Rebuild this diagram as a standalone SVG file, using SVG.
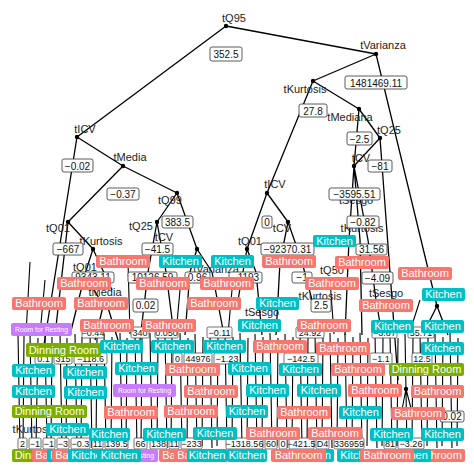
<svg xmlns="http://www.w3.org/2000/svg" width="474" height="474" viewBox="0 0 474 474">
<style>
.e{stroke:#000;stroke-width:1.3;fill:none}
.h{stroke:#000;stroke-width:1.1;fill:none}
.dot{fill:#000}
.nl{font-family:'Liberation Sans',Arial,sans-serif;font-size:11px;fill:#222;text-anchor:middle}
.sp rect{fill:#fff;stroke:#333;stroke-width:0.8}
.sp text{font-family:'Liberation Sans',Arial,sans-serif;font-size:10px;fill:#111;text-anchor:middle}
.sm rect{fill:#fff;stroke:#333;stroke-width:0.7}
.sm text{font-family:'Liberation Sans',Arial,sans-serif;font-size:9px;fill:#111;text-anchor:middle}
.leaf text{font-family:'Liberation Sans',Arial,sans-serif;font-size:11px;fill:#fff;text-anchor:middle}
.k rect{fill:#00BFC4}
.b rect{fill:#F8766D}
.d rect{fill:#7CAE00}
.r rect{fill:#C77CFF}
.r text{font-size:6.8px}
</style>
<rect width="474" height="474" fill="#fff"/>
<g id="connectors">
<path class="e" d="M226 26L376 54M226 26L77 137M376 54L313 81M376 54L437 306M313 81L359 109M313 81L267 193M359 109L380 138M359 109L354 166M380 138L354 166M380 138L398 380M267 193L247 249M267 193L288 222M77 137L123 166M77 137L40 370M123 166L68 222M123 166L177 193M177 193L157 222M177 193L197 249M68 222L93 249M68 222L55 335M93 249L85 274M93 249L112 290M85 274L70 335M85 274L100 300M105 298L95 340M105 298L118 340M157 222L148 272M157 222L166 272M148 272L140 340M166 272L174 335M197 249L190 272M197 249L212 272M190 272L185 335M212 272L224 335M247 249L238 300M247 249L256 272M256 272L262 335M288 222L280 262M288 222L302 262M302 262L312 300M280 262L276 335M354 166L349 240M354 166L360 240M354 166L368 240M349 240L345 335M360 240L362 335M368 240L376 300M376 300L382 335M437 306L429 322M437 306L448 335"/>
<path class="h" d="M18 334L20 448M24 336L23 446M30 333L32 448M38 338L36 446M45 334L47 448M52 337L51 446M60 333L62 448M67 338L66 446M75 334L77 448M82 337L81 446M90 333L92 448M97 338L96 446M104 334L106 448M112 337L111 446M120 333L122 448M127 338L126 446M135 334L137 448M142 337L141 446M150 333L152 448M158 338L157 446M165 334L167 448M172 337L171 446M180 333L182 448M188 338L187 446M195 334L197 448M203 337L202 446M210 333L212 448M218 338L217 446M225 334L227 448M233 337L232 446M240 333L242 448M248 338L247 446M255 334L257 448M263 337L262 446M270 333L272 448M278 338L277 446M285 334L287 448M293 337L292 446M300 333L302 448M308 338L307 446M315 334L317 448M323 337L322 446M330 333L332 448M338 338L337 446M345 334L347 448M353 337L352 446M360 333L362 448M368 338L367 446M375 334L377 448M383 337L382 446M390 333L392 448M398 338L397 446M405 334L407 448M413 337L412 446M420 333L422 448M428 338L427 446M435 334L437 448M443 337L442 446M450 333L452 448M458 338L457 446M30 262L26 334M45 280L40 334M128 262L130 334M180 290L176 334M232 290L228 334M330 280L334 334M406 389L400 420M406 389L414 420M413 322L420 300"/>
</g>
<g id="n-tQ95"><circle class="dot" cx="226" cy="26" r="2.2"/><text class="nl" x="234" y="22">tQ95</text></g>
<g id="n-tVarianza"><circle class="dot" cx="376" cy="54" r="2.2"/><text class="nl" x="383" y="49">tVarianza</text></g>
<g id="n-tKurtosis"><circle class="dot" cx="313" cy="81" r="2.2"/><text class="nl" x="305" y="93">tKurtosis</text></g>
<g id="n-tMediana"><circle class="dot" cx="359" cy="109" r="2.2"/><text class="nl" x="350" y="121">tMediana</text></g>
<g id="n-tQ25r"><circle class="dot" cx="380" cy="138" r="2.2"/><text class="nl" x="389" y="134">tQ25</text></g>
<g id="n-tCVr"><circle class="dot" cx="354" cy="166" r="2.2"/><text class="nl" x="361" y="162">tCV</text></g>
<g id="n-tICV"><circle class="dot" cx="77" cy="137" r="2.2"/><text class="nl" x="85" y="133">tICV</text></g>
<g id="n-tMedia"><circle class="dot" cx="123" cy="166" r="2.2"/><text class="nl" x="130" y="161">tMedia</text></g>
<g id="n-tQ99"><circle class="dot" cx="177" cy="193" r="2.2"/><text class="nl" x="170" y="204">tQ99</text></g>
<g id="n-tQ25l"><circle class="dot" cx="157" cy="222" r="2.2"/><text class="nl" x="141" y="230">tQ25</text></g>
<g id="n-tQ01l"><circle class="dot" cx="68" cy="222" r="2.2"/><text class="nl" x="58" y="232">tQ01</text></g>
<g id="n-tKurtosisl"><circle class="dot" cx="93" cy="249" r="2.2"/><text class="nl" x="101" y="245">tKurtosis</text></g>
<g id="n-tCVl"><circle class="dot" cx="197" cy="249" r="2.2"/><text class="nl" x="164" y="241">tCV</text></g>
<g id="n-tICVr"><circle class="dot" cx="267" cy="193" r="2.2"/><text class="nl" x="275" y="188">tICV</text></g>
<g id="n-tCVr2"><circle class="dot" cx="288" cy="222" r="2.2"/><text class="nl" x="282" y="232">tCV</text></g>
<g id="n-tQ01r"><circle class="dot" cx="247" cy="249" r="2.2"/><text class="nl" x="250" y="245">tQ01</text></g>
<g id="n-misc"><text class="nl" x="356" y="204">tSesgo</text><text class="nl" x="362" y="232">tKurtosis</text><text class="nl" x="85" y="271">tQ01</text><text class="nl" x="105" y="296">tMedia</text><text class="nl" x="216" y="273">tVarianza</text><text class="nl" x="332" y="274">tQ50</text><text class="nl" x="320" y="300">tKurtosis</text><text class="nl" x="262" y="316">tSesgo</text><text class="nl" x="386" y="297">tSesgo</text><text class="nl" x="34" y="433">tKurtosis</text></g>
<g id="n-right"><circle class="dot" cx="437" cy="306" r="2.2"/><circle class="dot" cx="406" cy="389" r="2.2"/></g>
<g id="splits">
<g class="sp"><rect x="210" y="47" width="32" height="14" rx="2"/><text x="226" y="58">352.5</text></g>
<g class="sp"><rect x="345" y="76" width="62" height="13" rx="2"/><text x="376" y="86.5">1481469.11</text></g>
<g class="sp"><rect x="299" y="104" width="28" height="13" rx="2"/><text x="313" y="114.5">27.8</text></g>
<g class="sp"><rect x="347" y="132" width="25" height="13" rx="2"/><text x="359.5" y="142.5">−2.5</text></g>
<g class="sp"><rect x="368" y="160" width="24" height="12" rx="2"/><text x="380" y="170">−81</text></g>
<g class="sp"><rect x="62" y="159" width="31" height="13" rx="2"/><text x="77.5" y="169.5">−0.02</text></g>
<g class="sp"><rect x="107" y="188" width="32" height="12" rx="2"/><text x="123" y="198">−0.37</text></g>
<g class="sp"><rect x="162" y="216" width="31" height="12" rx="2"/><text x="177.5" y="226">383.5</text></g>
<g class="sp"><rect x="329" y="188" width="51" height="12" rx="2"/><text x="354.5" y="198">−3595.51</text></g>
<g class="sp"><rect x="262" y="216" width="10" height="12" rx="2"/><text x="267" y="226">0</text></g>
<g class="sp"><rect x="347" y="216" width="32" height="12" rx="2"/><text x="363" y="226">−0.82</text></g>
<g class="sp"><rect x="53" y="243" width="30" height="12" rx="2"/><text x="68" y="253">−667</text></g>
<g class="sp"><rect x="142" y="243" width="31" height="12" rx="2"/><text x="157.5" y="253">−41.5</text></g>
<g class="sp"><rect x="261" y="243" width="53" height="12" rx="2"/><text x="287.5" y="253">−92370.31</text></g>
<g class="sp"><rect x="356" y="244" width="31" height="11" rx="2"/><text x="371.5" y="253">31.56</text></g>
<g class="sp"><rect x="72" y="272" width="42" height="11" rx="2"/><text x="93" y="281">9343.11</text></g>
<g class="sp"><rect x="128" y="272" width="49" height="11" rx="2"/><text x="152.5" y="281">10126.59</text></g>
<g class="sp"><rect x="185" y="272" width="25" height="11" rx="2"/><text x="197.5" y="281">0.96</text></g>
<g class="sp"><rect x="229" y="272" width="33" height="11" rx="2"/><text x="245.5" y="281">−1193</text></g>
<g class="sp"><rect x="292" y="272" width="20" height="11" rx="2"/><text x="302" y="281">−1</text></g>
<g class="sp"><rect x="362" y="272" width="31" height="12" rx="2"/><text x="377.5" y="282">−4.09</text></g>
<g class="sp"><rect x="311" y="299" width="20" height="13" rx="2"/><text x="321" y="309">2.5</text></g>
<g class="sp"><rect x="133" y="299" width="25" height="13" rx="2"/><text x="145.5" y="309">0.02</text></g>
<g class="sp"><rect x="440" y="411" width="24" height="11" rx="2"/><text x="452" y="420">0.02</text></g>
<g class="sm"><rect x="82" y="327" width="22" height="11" rx="1.5"/><text x="93" y="336">−0.44</text></g>
<g class="sm"><rect x="131" y="327" width="18" height="11" rx="1.5"/><text x="140" y="336">340</text></g>
<g class="sm"><rect x="155" y="327" width="23" height="11" rx="1.5"/><text x="166.5" y="336">0.050</text></g>
<g class="sm"><rect x="207" y="327" width="25" height="11" rx="1.5"/><text x="219.5" y="336">−0.11</text></g>
<g class="sm"><rect x="296" y="327" width="28" height="11" rx="1.5"/><text x="310" y="336">24.92</text></g>
<g class="sm"><rect x="372" y="327" width="25" height="11" rx="1.5"/><text x="384.5" y="336">−3.87</text></g>
<g class="sm"><rect x="408" y="327" width="26" height="11" rx="1.5"/><text x="421" y="336">55.71</text></g>
<g class="sm"><rect x="35" y="353" width="17" height="11" rx="1.5"/><text x="43.5" y="362">0.1</text></g>
<g class="sm"><rect x="54" y="353" width="18" height="11" rx="1.5"/><text x="63" y="362">315</text></g>
<g class="sm"><rect x="74" y="353" width="33" height="11" rx="1.5"/><text x="90.5" y="362">−118.6</text></g>
<g class="sm"><rect x="173" y="353" width="9" height="11" rx="1.5"/><text x="177.5" y="362">0</text></g>
<g class="sm"><rect x="184" y="353" width="28" height="11" rx="1.5"/><text x="198" y="362">44976</text></g>
<g class="sm"><rect x="214" y="353" width="26" height="11" rx="1.5"/><text x="227" y="362">−1.23</text></g>
<g class="sm"><rect x="284" y="353" width="34" height="11" rx="1.5"/><text x="301" y="362">−142.5</text></g>
<g class="sm"><rect x="370" y="353" width="22" height="11" rx="1.5"/><text x="381" y="362">−1.1</text></g>
<g class="sm"><rect x="412" y="353" width="20" height="11" rx="1.5"/><text x="422" y="362">12.5</text></g>
<g class="sm"><rect x="18" y="438" width="9" height="11" rx="1.5"/><text x="22.5" y="447">2</text></g>
<g class="sm"><rect x="29" y="438" width="12" height="11" rx="1.5"/><text x="35" y="447">−1</text></g>
<g class="sm"><rect x="43" y="438" width="12" height="11" rx="1.5"/><text x="49" y="447">−1</text></g>
<g class="sm"><rect x="57" y="438" width="12" height="11" rx="1.5"/><text x="63" y="447">−3</text></g>
<g class="sm"><rect x="71" y="438" width="19" height="11" rx="1.5"/><text x="80.5" y="447">−0.3</text></g>
<g class="sm"><rect x="92" y="438" width="11" height="11" rx="1.5"/><text x="97.5" y="447">11</text></g>
<g class="sm"><rect x="105" y="438" width="23" height="11" rx="1.5"/><text x="116.5" y="447">139.5</text></g>
<g class="sm"><rect x="134" y="438" width="13" height="11" rx="1.5"/><text x="140.5" y="447">66</text></g>
<g class="sm"><rect x="150" y="438" width="17" height="11" rx="1.5"/><text x="158.5" y="447">138</text></g>
<g class="sm"><rect x="169" y="438" width="10" height="11" rx="1.5"/><text x="174" y="447">11</text></g>
<g class="sm"><rect x="181" y="438" width="21" height="11" rx="1.5"/><text x="191.5" y="447">−233</text></g>
<g class="sm"><rect x="226" y="438" width="37" height="11" rx="1.5"/><text x="244.5" y="447">−1318.56</text></g>
<g class="sm"><rect x="265" y="438" width="12" height="11" rx="1.5"/><text x="271" y="447">60</text></g>
<g class="sm"><rect x="279" y="438" width="8" height="11" rx="1.5"/><text x="283" y="447">0</text></g>
<g class="sm"><rect x="289" y="438" width="25" height="11" rx="1.5"/><text x="301.5" y="447">−421.5</text></g>
<g class="sm"><rect x="316" y="438" width="13" height="11" rx="1.5"/><text x="322.5" y="447">D4</text></g>
<g class="sm"><rect x="334" y="438" width="30" height="11" rx="1.5"/><text x="349" y="447">336959</text></g>
<g class="sm"><rect x="384" y="438" width="12" height="11" rx="1.5"/><text x="390" y="447">81</text></g>
<g class="sm"><rect x="398" y="438" width="26" height="11" rx="1.5"/><text x="411" y="447">−3.26</text></g>
</g>
<g id="leaves">
<g id="L1" class="leaf k"><rect x="313" y="235" width="43" height="12" rx="2"/><text x="334.5" y="245">Kitchen</text></g>
<g id="L2" class="leaf b"><rect x="96" y="255" width="54" height="13" rx="2"/><text x="123" y="265">Bathroom</text></g>
<g id="L3" class="leaf k"><rect x="159" y="255" width="43" height="13" rx="2"/><text x="180.5" y="265">Kitchen</text></g>
<g id="L4" class="leaf k"><rect x="211" y="255" width="43" height="13" rx="2"/><text x="232.5" y="265">Kitchen</text></g>
<g id="L5" class="leaf b"><rect x="262" y="255" width="54" height="13" rx="2"/><text x="289" y="265">Bathroom</text></g>
<g id="L6" class="leaf b"><rect x="335" y="256" width="54" height="13" rx="2"/><text x="362" y="266">Bathroom</text></g>
<g id="L7" class="leaf b"><rect x="398" y="267" width="54" height="13" rx="2"/><text x="425" y="277">Bathroom</text></g>
<g id="L8" class="leaf b"><rect x="57" y="277" width="54" height="13" rx="2"/><text x="84" y="287">Bathroom</text></g>
<g id="L9" class="leaf b"><rect x="136" y="277" width="54" height="13" rx="2"/><text x="163" y="287">Bathroom</text></g>
<g id="L10" class="leaf b"><rect x="200" y="277" width="54" height="13" rx="2"/><text x="227" y="287">Bathroom</text></g>
<g id="L11" class="leaf b"><rect x="305" y="277" width="54" height="13" rx="2"/><text x="332" y="287">Bathroom</text></g>
<g id="L12" class="leaf k"><rect x="422" y="288" width="43" height="13" rx="2"/><text x="443.5" y="298">Kitchen</text></g>
<g id="L13" class="leaf b"><rect x="12" y="297" width="54" height="13" rx="2"/><text x="39" y="307">Bathroom</text></g>
<g id="L14" class="leaf b"><rect x="74" y="297" width="54" height="13" rx="2"/><text x="101" y="307">Bathroom</text></g>
<g id="L15" class="leaf b"><rect x="187" y="297" width="54" height="13" rx="2"/><text x="214" y="307">Bathroom</text></g>
<g id="L16" class="leaf k"><rect x="256" y="297" width="43" height="13" rx="2"/><text x="277.5" y="307">Kitchen</text></g>
<g id="L17" class="leaf b"><rect x="359" y="299" width="54" height="13" rx="2"/><text x="386" y="309">Bathroom</text></g>
<g id="L18" class="leaf r"><rect x="11" y="323" width="61" height="13" rx="2"/><text x="41.5" y="332">Room for Resting</text></g>
<g id="L19" class="leaf b"><rect x="80" y="319" width="54" height="13" rx="2"/><text x="107" y="329">Bathroom</text></g>
<g id="L20" class="leaf b"><rect x="142" y="319" width="54" height="13" rx="2"/><text x="169" y="329">Bathroom</text></g>
<g id="L21" class="leaf k"><rect x="238" y="319" width="43" height="13" rx="2"/><text x="259.5" y="329">Kitchen</text></g>
<g id="L22" class="leaf b"><rect x="297" y="319" width="54" height="13" rx="2"/><text x="324" y="329">Bathroom</text></g>
<g id="L23" class="leaf k"><rect x="371" y="320" width="43" height="13" rx="2"/><text x="392.5" y="330">Kitchen</text></g>
<g id="L24" class="leaf k"><rect x="421" y="320" width="43" height="13" rx="2"/><text x="442.5" y="330">Kitchen</text></g>
<g id="L25" class="leaf d"><rect x="26" y="343" width="75" height="14" rx="2"/><text x="63.5" y="353.5">Dinning Room</text></g>
<g id="L26" class="leaf k"><rect x="100" y="340" width="43" height="13" rx="2"/><text x="121.5" y="350">Kitchen</text></g>
<g id="L27" class="leaf k"><rect x="151" y="340" width="43" height="13" rx="2"/><text x="172.5" y="350">Kitchen</text></g>
<g id="L28" class="leaf k"><rect x="203" y="340" width="43" height="13" rx="2"/><text x="224.5" y="350">Kitchen</text></g>
<g id="L29" class="leaf b"><rect x="253" y="340" width="54" height="13" rx="2"/><text x="280" y="350">Bathroom</text></g>
<g id="L30" class="leaf b"><rect x="316" y="342" width="54" height="13" rx="2"/><text x="343" y="352">Bathroom</text></g>
<g id="L31" class="leaf k"><rect x="421" y="342" width="43" height="13" rx="2"/><text x="442.5" y="352">Kitchen</text></g>
<g id="L32" class="leaf k"><rect x="12" y="364" width="43" height="13" rx="2"/><text x="33.5" y="374">Kitchen</text></g>
<g id="L33" class="leaf k"><rect x="63" y="366" width="44" height="13" rx="2"/><text x="85" y="376">Kitchen</text></g>
<g id="L34" class="leaf k"><rect x="115" y="362" width="43" height="13" rx="2"/><text x="136.5" y="372">Kitchen</text></g>
<g id="L35" class="leaf b"><rect x="165" y="363" width="55" height="13" rx="2"/><text x="192.5" y="373">Bathroom</text></g>
<g id="L36" class="leaf k"><rect x="228" y="362" width="43" height="13" rx="2"/><text x="249.5" y="372">Kitchen</text></g>
<g id="L37" class="leaf k"><rect x="279" y="363" width="43" height="13" rx="2"/><text x="300.5" y="373">Kitchen</text></g>
<g id="L38" class="leaf b"><rect x="331" y="363" width="54" height="13" rx="2"/><text x="358" y="373">Bathroom</text></g>
<g id="L39" class="leaf d"><rect x="389" y="363" width="75" height="13" rx="2"/><text x="426.5" y="373">Dinning Room</text></g>
<g id="L40" class="leaf k"><rect x="12" y="385" width="43" height="13" rx="2"/><text x="33.5" y="395">Kitchen</text></g>
<g id="L41" class="leaf k"><rect x="64" y="386" width="43" height="13" rx="2"/><text x="85.5" y="396">Kitchen</text></g>
<g id="L42" class="leaf r"><rect x="113" y="384" width="63" height="13" rx="2"/><text x="144.5" y="393">Room for Resting</text></g>
<g id="L43" class="leaf b"><rect x="184" y="385" width="54" height="13" rx="2"/><text x="211" y="395">Bathroom</text></g>
<g id="L44" class="leaf k"><rect x="246" y="384" width="43" height="13" rx="2"/><text x="267.5" y="394">Kitchen</text></g>
<g id="L45" class="leaf k"><rect x="297" y="384" width="44" height="13" rx="2"/><text x="319" y="394">Kitchen</text></g>
<g id="L46" class="leaf b"><rect x="348" y="384" width="54" height="13" rx="2"/><text x="375" y="394">Bathroom</text></g>
<g id="L47" class="leaf b"><rect x="411" y="385" width="53" height="13" rx="2"/><text x="437.5" y="395">Bathroom</text></g>
<g id="L48" class="leaf d"><rect x="12" y="405" width="75" height="13" rx="2"/><text x="49.5" y="415">Dinning Room</text></g>
<g id="L49" class="leaf b"><rect x="104" y="406" width="54" height="13" rx="2"/><text x="131" y="416">Bathroom</text></g>
<g id="L50" class="leaf b"><rect x="164" y="405" width="54" height="13" rx="2"/><text x="191" y="415">Bathroom</text></g>
<g id="L51" class="leaf k"><rect x="226" y="405" width="42" height="13" rx="2"/><text x="247" y="415">Kitchen</text></g>
<g id="L52" class="leaf b"><rect x="277" y="406" width="54" height="13" rx="2"/><text x="304" y="416">Bathroom</text></g>
<g id="L53" class="leaf k"><rect x="339" y="406" width="43" height="13" rx="2"/><text x="360.5" y="416">Kitchen</text></g>
<g id="L54" class="leaf b"><rect x="391" y="407" width="54" height="13" rx="2"/><text x="418" y="417">Bathroom</text></g>
<g id="L55" class="leaf k"><rect x="46" y="423" width="43" height="13" rx="2"/><text x="67.5" y="433">Kitchen</text></g>
<g id="L56" class="leaf k"><rect x="89" y="428" width="41" height="13" rx="2"/><text x="109.5" y="438">Kitchen</text></g>
<g id="L57" class="leaf k"><rect x="143" y="428" width="43" height="13" rx="2"/><text x="164.5" y="438">Kitchen</text></g>
<g id="L58" class="leaf k"><rect x="193" y="427" width="44" height="13" rx="2"/><text x="215" y="437">Kitchen</text></g>
<g id="L59" class="leaf b"><rect x="246" y="427" width="54" height="13" rx="2"/><text x="273" y="437">Bathroom</text></g>
<g id="L60" class="leaf b"><rect x="308" y="427" width="54" height="13" rx="2"/><text x="335" y="437">Bathroom</text></g>
<g id="L61" class="leaf k"><rect x="370" y="428" width="43" height="13" rx="2"/><text x="391.5" y="438">Kitchen</text></g>
<g id="L62" class="leaf k"><rect x="421" y="428" width="43" height="13" rx="2"/><text x="442.5" y="438">Kitchen</text></g>
<g id="L63" class="leaf d"><rect x="12" y="449" width="75" height="13" rx="2"/><text x="49.5" y="459">Dinning Room</text></g>
<g id="L64" class="leaf b"><rect x="32" y="449" width="54" height="13" rx="2"/><text x="59" y="459">Bathroom</text></g>
<g id="L65" class="leaf k"><rect x="47" y="449" width="43" height="13" rx="2"/><text x="68.5" y="459">Kitchen</text></g>
<g id="L66" class="leaf b"><rect x="52" y="449" width="54" height="13" rx="2"/><text x="79" y="459">Bathroom</text></g>
<g id="L67" class="leaf k"><rect x="68" y="449" width="43" height="13" rx="2"/><text x="89.5" y="459">Kitchen</text></g>
<g id="L68" class="leaf r"><rect x="97" y="449" width="61" height="13" rx="2"/><text x="127.5" y="458">Room for Resting</text></g>
<g id="L69" class="leaf k"><rect x="97" y="449" width="44" height="13" rx="2"/><text x="119" y="459">Kitchen</text></g>
<g id="L70" class="leaf b"><rect x="159" y="449" width="54" height="13" rx="2"/><text x="186" y="459">Bathroom</text></g>
<g id="L71" class="leaf b"><rect x="174" y="449" width="54" height="13" rx="2"/><text x="201" y="459">Bathroom</text></g>
<g id="L72" class="leaf k"><rect x="187" y="449" width="40" height="13" rx="2"/><text x="207" y="459">Kitchen</text></g>
<g id="L73" class="leaf k"><rect x="227" y="449" width="40" height="13" rx="2"/><text x="247" y="459">Kitchen</text></g>
<g id="L74" class="leaf k"><rect x="291" y="449" width="43" height="13" rx="2"/><text x="312.5" y="459">Kitchen</text></g>
<g id="L75" class="leaf b"><rect x="271" y="449" width="55" height="13" rx="2"/><text x="298.5" y="459">Bathroom</text></g>
<g id="L76" class="leaf b"><rect x="411" y="449" width="54" height="13" rx="2"/><text x="438" y="459">Bathroom</text></g>
<g id="L77" class="leaf k"><rect x="388" y="449" width="43" height="13" rx="2"/><text x="409.5" y="459">Kitchen</text></g>
<g id="L78" class="leaf k"><rect x="337" y="449" width="43" height="13" rx="2"/><text x="358.5" y="459">Kitchen</text></g>
<g id="L79" class="leaf b"><rect x="360" y="449" width="54" height="13" rx="2"/><text x="387" y="459">Bathroom</text></g>
</g>
</svg>
